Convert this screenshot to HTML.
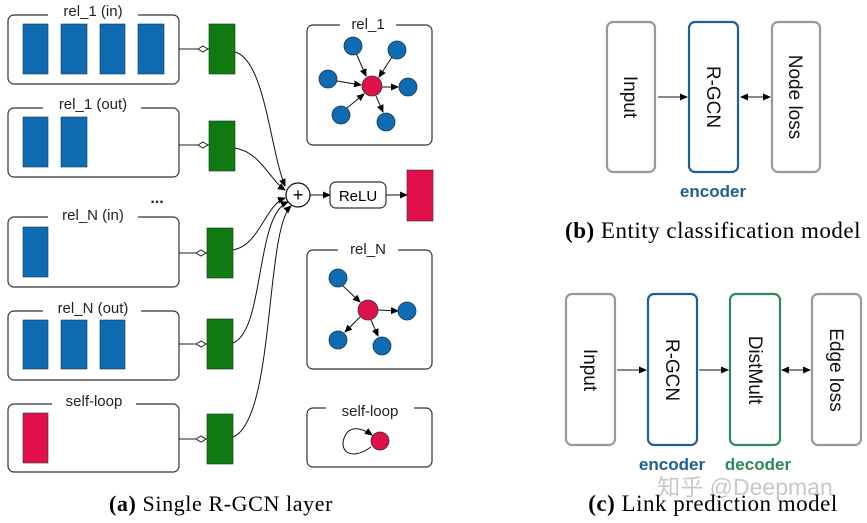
<!DOCTYPE html>
<html><head><meta charset="utf-8"><style>
html,body{margin:0;padding:0;background:#fff;}
svg{display:block;}
.s{font-family:"Liberation Sans",sans-serif;}
.r{font-family:"Liberation Serif",serif;}
</style></head><body>
<svg width="867" height="523" viewBox="0 0 867 523" xmlns="http://www.w3.org/2000/svg">
<defs>
<marker id="a" markerWidth="8" markerHeight="8" refX="7" refY="4" orient="auto" markerUnits="userSpaceOnUse"><path d="M0,0.5 L8,4 L0,7.5 z" fill="#000"/></marker>
<marker id="b" markerWidth="8" markerHeight="8" refX="1" refY="4" orient="auto" markerUnits="userSpaceOnUse"><path d="M8,0.5 L0,4 L8,7.5 z" fill="#000"/></marker>
</defs>
<g fill="none" stroke="#333" stroke-width="1.2">
<rect x="8" y="15" width="171" height="69" rx="6"/>
<rect x="8" y="108" width="171" height="69" rx="6"/>
<rect x="8" y="217" width="171" height="70" rx="6"/>
<rect x="8" y="311" width="171" height="69" rx="6"/>
<rect x="8" y="404" width="171" height="68" rx="6"/>
<rect x="307" y="25" width="125" height="120" rx="6"/>
<rect x="307" y="250" width="125" height="119" rx="6"/>
<rect x="307" y="408" width="125" height="59" rx="6"/>
</g>
<g fill="#fff">
<rect x="48" y="8" width="90" height="14"/><rect x="43" y="100" width="98" height="14"/>
<rect x="48" y="210" width="90" height="14"/><rect x="43" y="303" width="98" height="14"/>
<rect x="52" y="397" width="84" height="14"/>
<rect x="340" y="18" width="56" height="14"/><rect x="338" y="243" width="60" height="14"/>
<rect x="326" y="400" width="88" height="14"/>
</g>
<g class="s" font-size="15" text-anchor="middle" fill="#222">
<text x="93" y="16">rel_1 (in)</text>
<text x="93" y="109">rel_1 (out)</text>
<text x="93" y="220">rel_N (in)</text>
<text x="93" y="313">rel_N (out)</text>
<text x="94" y="406">self-loop</text>
<text x="368" y="29">rel_1</text>
<text x="368" y="254">rel_N</text>
<text x="370" y="416">self-loop</text>
<text x="157" y="203" font-weight="bold" font-size="16">...</text>
</g>
<g fill="#0f6bb2" stroke="#1a3550" stroke-width="0.6">
<rect x="23" y="24" width="25" height="50"/><rect x="61" y="24" width="26" height="50"/><rect x="100" y="24" width="25" height="50"/><rect x="138" y="24" width="26" height="50"/>
<rect x="23" y="117" width="25" height="50"/><rect x="61" y="117" width="26" height="50"/>
<rect x="23" y="227" width="25" height="50"/>
<rect x="23" y="320" width="25" height="49"/><rect x="61" y="320" width="26" height="49"/><rect x="100" y="320" width="25" height="49"/>
</g>
<rect x="23" y="413" width="25" height="50" fill="#e0104a" stroke="#333" stroke-width="0.6"/>
<g fill="#127a12" stroke="#0a3a0a" stroke-width="0.6">
<rect x="209" y="24" width="26" height="50"/><rect x="209" y="121" width="26" height="50"/>
<rect x="207" y="228" width="26" height="50"/><rect x="207" y="319" width="26" height="50"/><rect x="207" y="414" width="26" height="50"/>
</g>
<g stroke="#222" stroke-width="1" fill="#fff">
<line x1="179" y1="49" x2="209" y2="49"/><path d="M198,49 l5,-3 l5,3 l-5,3z"/>
<line x1="179" y1="145" x2="209" y2="145"/><path d="M198,145 l5,-3 l5,3 l-5,3z"/>
<line x1="179" y1="253" x2="207" y2="253"/><path d="M196,253 l5,-3 l5,3 l-5,3z"/>
<line x1="179" y1="344" x2="207" y2="344"/><path d="M196,344 l5,-3 l5,3 l-5,3z"/>
<line x1="179" y1="439" x2="207" y2="439"/><path d="M196,439 l5,-3 l5,3 l-5,3z"/>
</g>
<g fill="none" stroke="#111" stroke-width="1" marker-end="url(#a)">
<path d="M235,52 C265,60 270,150 285,186"/>
<path d="M235,148 C260,152 270,180 285,190"/>
<path d="M233,250 C260,245 265,205 285,198"/>
<path d="M233,343 C265,330 255,215 288,202"/>
<path d="M233,437 C275,420 265,230 291,206"/>
</g>
<circle cx="298" cy="195" r="12" fill="#fff" stroke="#111" stroke-width="1.2"/>
<text x="298" y="201" class="s" font-size="18" text-anchor="middle">+</text>
<line x1="310" y1="195" x2="330" y2="195" stroke="#111" marker-end="url(#a)"/>
<rect x="330" y="182" width="56" height="26" rx="6" fill="#fff" stroke="#333" stroke-width="1.2"/>
<text x="358" y="201" class="s" font-size="15" text-anchor="middle">ReLU</text>
<line x1="386" y1="195" x2="407" y2="195" stroke="#111" marker-end="url(#a)"/>
<rect x="407" y="170" width="26" height="51" fill="#e0104a" stroke="#333" stroke-width="0.6"/>
<g stroke="#111" stroke-width="1" marker-end="url(#a)">
<line x1="356" y1="53" x2="366" y2="76"/>
<line x1="392" y1="57" x2="379" y2="77"/>
<line x1="337" y1="81" x2="361" y2="85"/>
<line x1="347" y1="108" x2="364" y2="94"/>
<line x1="382" y1="87" x2="398" y2="87"/>
<line x1="376" y1="96" x2="383" y2="112"/>
<line x1="342" y1="285" x2="360" y2="302"/>
<line x1="378" y1="310" x2="398" y2="311"/>
<line x1="360" y1="317" x2="345" y2="332"/>
<line x1="371" y1="320" x2="378" y2="336"/>
</g>
<g fill="#0f6bb2" stroke="#1a3550" stroke-width="0.8">
<circle cx="353" cy="46" r="9"/><circle cx="397" cy="50" r="9"/><circle cx="328" cy="79" r="9"/><circle cx="408" cy="87" r="9"/><circle cx="341" cy="115" r="9"/><circle cx="386" cy="122" r="9"/>
<circle cx="338" cy="278" r="9"/><circle cx="407" cy="311" r="9"/><circle cx="338" cy="340" r="9"/><circle cx="382" cy="346" r="9"/>
</g>
<g fill="#e0104a" stroke="#333" stroke-width="0.8">
<circle cx="372" cy="86" r="10"/><circle cx="368" cy="310" r="10"/><circle cx="380" cy="441" r="9"/>
</g>
<path d="M371,447 C350,462 338,450 345,436 C350,425 362,428 372,435" fill="none" stroke="#111" stroke-width="1" marker-end="url(#a)"/>
<text x="221" y="511" class="r" font-size="22" text-anchor="middle" letter-spacing="0.6"><tspan font-weight="bold">(a)</tspan> Single R-GCN layer</text>
<g fill="#fff" stroke-width="2.2">
<rect x="607" y="22" width="48" height="150" rx="6" stroke="#999"/>
<rect x="689" y="22" width="49" height="150" rx="6" stroke="#1f5f92"/>
<rect x="772" y="22" width="48" height="150" rx="6" stroke="#999"/>
<rect x="566" y="294" width="49" height="151" rx="6" stroke="#999"/>
<rect x="648" y="294" width="49" height="151" rx="6" stroke="#1f5f92"/>
<rect x="730" y="294" width="50" height="151" rx="6" stroke="#2a8a5a"/>
<rect x="812" y="294" width="49" height="151" rx="6" stroke="#999"/>
</g>
<g class="s" font-size="19" text-anchor="middle" fill="#111">
<text transform="translate(624,97) rotate(90)">Input</text>
<text transform="translate(707,97) rotate(90)">R-GCN</text>
<text transform="translate(789,97) rotate(90)">Node loss</text>
<text transform="translate(584,370) rotate(90)">Input</text>
<text transform="translate(666,370) rotate(90)">R-GCN</text>
<text transform="translate(749,370) rotate(90)">DistMult</text>
<text transform="translate(830,370) rotate(90)">Edge loss</text>
</g>
<g stroke="#111" stroke-width="1">
<line x1="658" y1="97" x2="687" y2="97" marker-end="url(#a)"/>
<line x1="741" y1="97" x2="770" y2="97" marker-end="url(#a)" marker-start="url(#b)"/>
<line x1="617" y1="370" x2="646" y2="370" marker-end="url(#a)"/>
<line x1="699" y1="370" x2="728" y2="370" marker-end="url(#a)"/>
<line x1="782" y1="370" x2="810" y2="370" marker-end="url(#a)" marker-start="url(#b)"/>
</g>
<g class="s" font-size="17" font-weight="bold" text-anchor="middle">
<text x="713" y="197" fill="#1f5f92">encoder</text>
<text x="672" y="470" fill="#1f5f92">encoder</text>
<text x="758" y="470" fill="#2a8a5a">decoder</text>
</g>
<text x="745" y="495" font-family="'Liberation Sans','Noto Sans CJK SC',sans-serif" font-size="23" text-anchor="middle" fill="#c8c8c8">知乎 @Deepman</text>
<text x="713" y="238" class="r" font-size="23" text-anchor="middle" letter-spacing="0.5"><tspan font-weight="bold">(b)</tspan> Entity classification model</text>
<text x="713" y="511" class="r" font-size="23" text-anchor="middle" letter-spacing="0.5"><tspan font-weight="bold">(c)</tspan> Link prediction model</text>
</svg>
</body></html>
